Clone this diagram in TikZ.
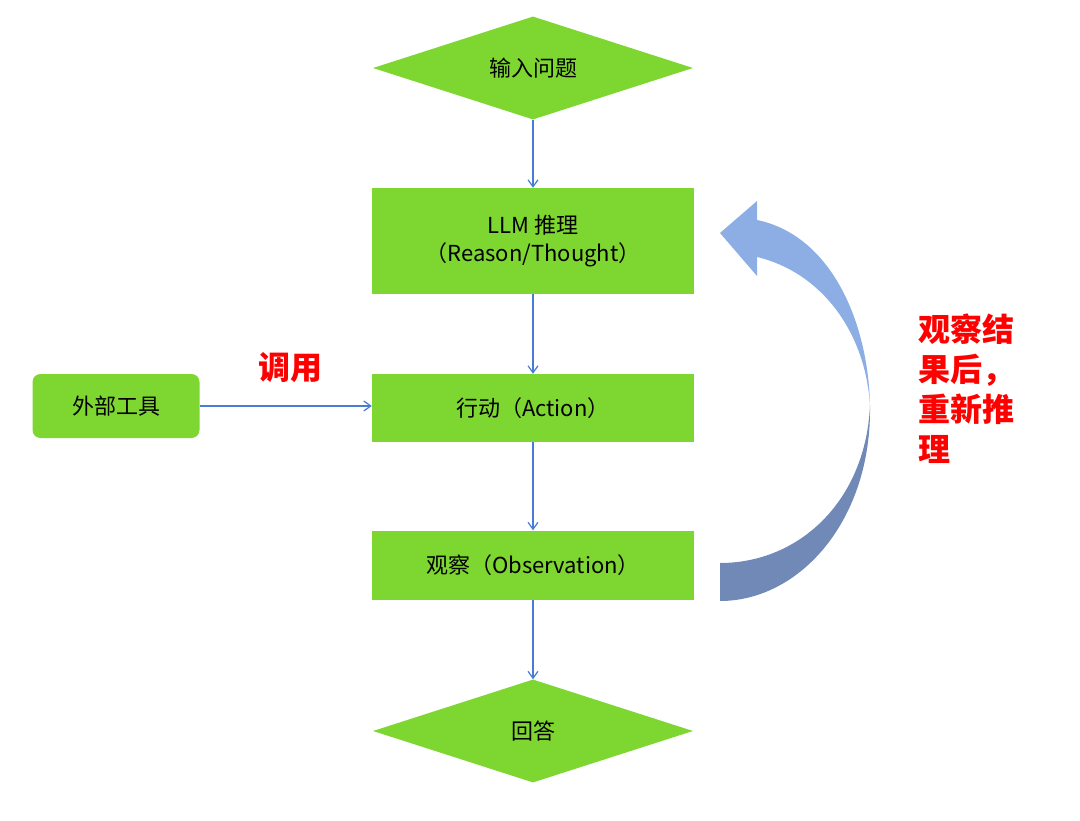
\documentclass[tikz,border=0pt]{standalone}
\usepackage{fontspec}
\setmainfont{Noto Sans CJK SC}
\usetikzlibrary{shapes.geometric,arrows.meta}
\definecolor{gr}{HTML}{7ED631}
\definecolor{ln}{HTML}{4A7BD6}
\definecolor{bl1}{HTML}{8DAEE5}
\definecolor{bl2}{HTML}{7189B7}
\begin{document}
\begin{tikzpicture}[x=1pt,y=-1pt,
 box/.style={fill=gr,draw=none,minimum width=322pt,font=\fontsize{22}{28}\selectfont,align=center},
 dia/.style={diamond,fill=gr,draw=none,aspect=3.1,minimum width=320pt,minimum height=103pt,inner sep=0pt,font=\fontsize{22}{28}\selectfont},
 arr/.style={draw=ln,line width=1.2pt,-{Straight Barb[length=7pt,width=10pt]}},
 red/.style={text=red,font=\fontsize{32}{40}\selectfont\bfseries,align=left}]
\useasboundingbox (0,0) rectangle (1080,821);
\node[dia] (in) at (533,68) {输入问题};
\node[box,minimum height=106pt] (llm) at (533,241) {LLM 推理\\（Reason/Thought）};
\node[box,minimum height=68pt] (act) at (533,408) {行动（Action）};
\node[box,minimum height=69pt] (obs) at (533,565) {观察（Observation）};
\node[dia] (ans) at (533,731) {回答};
\node[fill=gr,rounded corners=8pt,minimum width=167pt,minimum height=64pt,font=\fontsize{22}{28}\selectfont] (tool) at (116,406) {外部工具};
\draw[arr] (in) -- (llm);
\draw[arr] (llm) -- (act);
\draw[arr] (act) -- (obs);
\draw[arr] (obs) -- (ans);
\draw[arr] (tool.east) -- (tool.east -| act.west);
\node[red] (call) at (290,368) {调用};
\node[red,anchor=north west] (note) at (915,310) {观察结\\果后，\\重新推\\理};
\fill[bl1] (720,233) -- (757,201) -- (757,220) .. controls (830,235) and (868,320) .. (870,405)
  .. controls (865,330) and (820,272) .. (757,257) -- (757,276) -- cycle;
\fill[bl2] (870,405) .. controls (872,520) and (800,601) .. (720,601) -- (720,563)
  .. controls (800,563) and (866,500) .. (870,405) -- cycle;
\end{tikzpicture}
\end{document}
